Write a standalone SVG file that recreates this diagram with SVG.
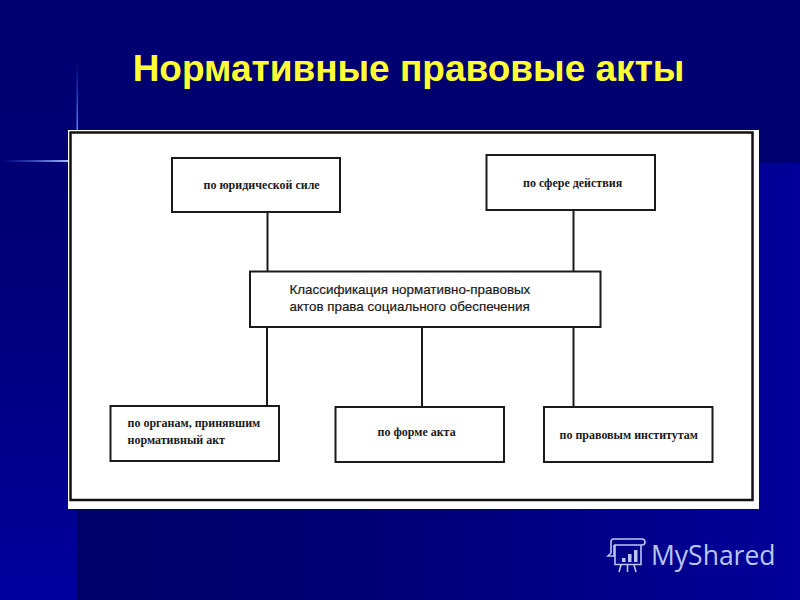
<svg xmlns="http://www.w3.org/2000/svg" width="800" height="600" viewBox="0 0 800 600">
<style>
.box{fill:#fff;stroke:#1a1a1a;stroke-width:2}
.lbl{font-family:"Liberation Serif",serif;font-weight:bold;font-size:12px;fill:#1a1a1a}
.main{font-family:"Liberation Sans",sans-serif;font-size:13.400px;fill:#1a1a1a;stroke:#1a1a1a;stroke-width:0.200px}
.conn{stroke:#1a1a1a;stroke-width:2;fill:none}
.logo{fill:none;stroke:#b9c6f2;stroke-width:1.6}
</style>
<defs>
<linearGradient id="bottom" x1="0" x2="1" y1="0" y2="0">
<stop offset="0" stop-color="#000068"/><stop offset="0.45" stop-color="#000078"/><stop offset="1" stop-color="#00009a"/>
</linearGradient>
<linearGradient id="left" x1="0" x2="0" y1="0" y2="1">
<stop offset="0" stop-color="#000070"/><stop offset="0.45" stop-color="#000078"/><stop offset="1" stop-color="#00009e"/>
</linearGradient>
<linearGradient id="vflare" x1="0" x2="0" y1="0" y2="1">
<stop offset="0" stop-color="#3a6cff" stop-opacity="0"/><stop offset="1" stop-color="#5b8cff"/>
</linearGradient>
<linearGradient id="hflare" x1="0" x2="1" y1="0" y2="0">
<stop offset="0" stop-color="#3a6cff" stop-opacity="0"/><stop offset="1" stop-color="#a9c4ff"/>
</linearGradient>
</defs>
<g id="background">
<rect width="800" height="600" fill="#000070"/>
<rect x="77" y="163" width="723" height="437" fill="url(#bottom)"/>
<rect x="0" y="0" width="77" height="600" fill="url(#left)"/>
<rect x="76.500" y="60" width="1.500" height="72" fill="url(#vflare)"/>
<rect x="0" y="160" width="70" height="2" fill="url(#hflare)"/>
</g>
<text id="title" x="408.500" y="81" text-anchor="middle" font-family="'Liberation Sans',sans-serif" font-weight="bold" font-size="37" fill="#ffff33">Нормативные правовые акты</text>
<g id="panel">
<rect x="68" y="130" width="691" height="379" fill="#fff"/>
<rect x="70.500" y="132.500" width="682" height="367.500" fill="none" stroke="#111" stroke-width="2.500"/>
</g>
<g id="connectors">
<path class="conn" d="M267.500 212V271.500M573.500 210V271.500M267 327V406M422 327V407M573.500 327V407"/>
</g>
<g id="node-force">
<rect class="box" x="172" y="158" width="168" height="54"/>
<text class="lbl" x="203.500" y="189">по юридической силе</text>
</g>
<g id="node-sphere">
<rect class="box" x="486.500" y="155" width="168.500" height="55"/>
<text class="lbl" x="523" y="187">по сфере действия</text>
</g>
<g id="node-center">
<rect class="box" x="250" y="271.500" width="350.500" height="55.500"/>
<text class="main" x="289.500" y="294">Классификация нормативно-правовых</text>
<text class="main" x="289.500" y="311">актов права социального обеспечения</text>
</g>
<g id="node-organs">
<rect class="box" x="110.500" y="406" width="168.500" height="55"/>
<text class="lbl" x="127.500" y="427">по органам, принявшим</text>
<text class="lbl" x="127.500" y="444">нормативный акт</text>
</g>
<g id="node-form">
<rect class="box" x="335.500" y="407" width="168.500" height="55"/>
<text class="lbl" x="377.500" y="436">по форме акта</text>
</g>
<g id="node-institutes">
<rect class="box" x="544" y="407" width="168.500" height="55"/>
<text class="lbl" x="559.500" y="439">по правовым институтам</text>
</g>
<g id="watermark">
<path class="logo" d="M614 539H642a3 3 0 0 1 0 6H614M614 539a3 3 0 0 0-3 3V553l-3 3H614V545M615 545V564.500H641V545"/>
<path d="M622 558h3.500v4H622zM628 554h3.500v8H628zM634 550h3.500v12H634z" fill="#b9c6f2"/>
<path class="logo" d="M621 565l-2 7M627.500 565v7M634 565l2 7"/>
<text x="651" y="565" font-family="'Open Sans','Noto Sans',sans-serif" font-size="26.500" fill="#b9c6f2">MyShared</text>
</g>
</svg>
